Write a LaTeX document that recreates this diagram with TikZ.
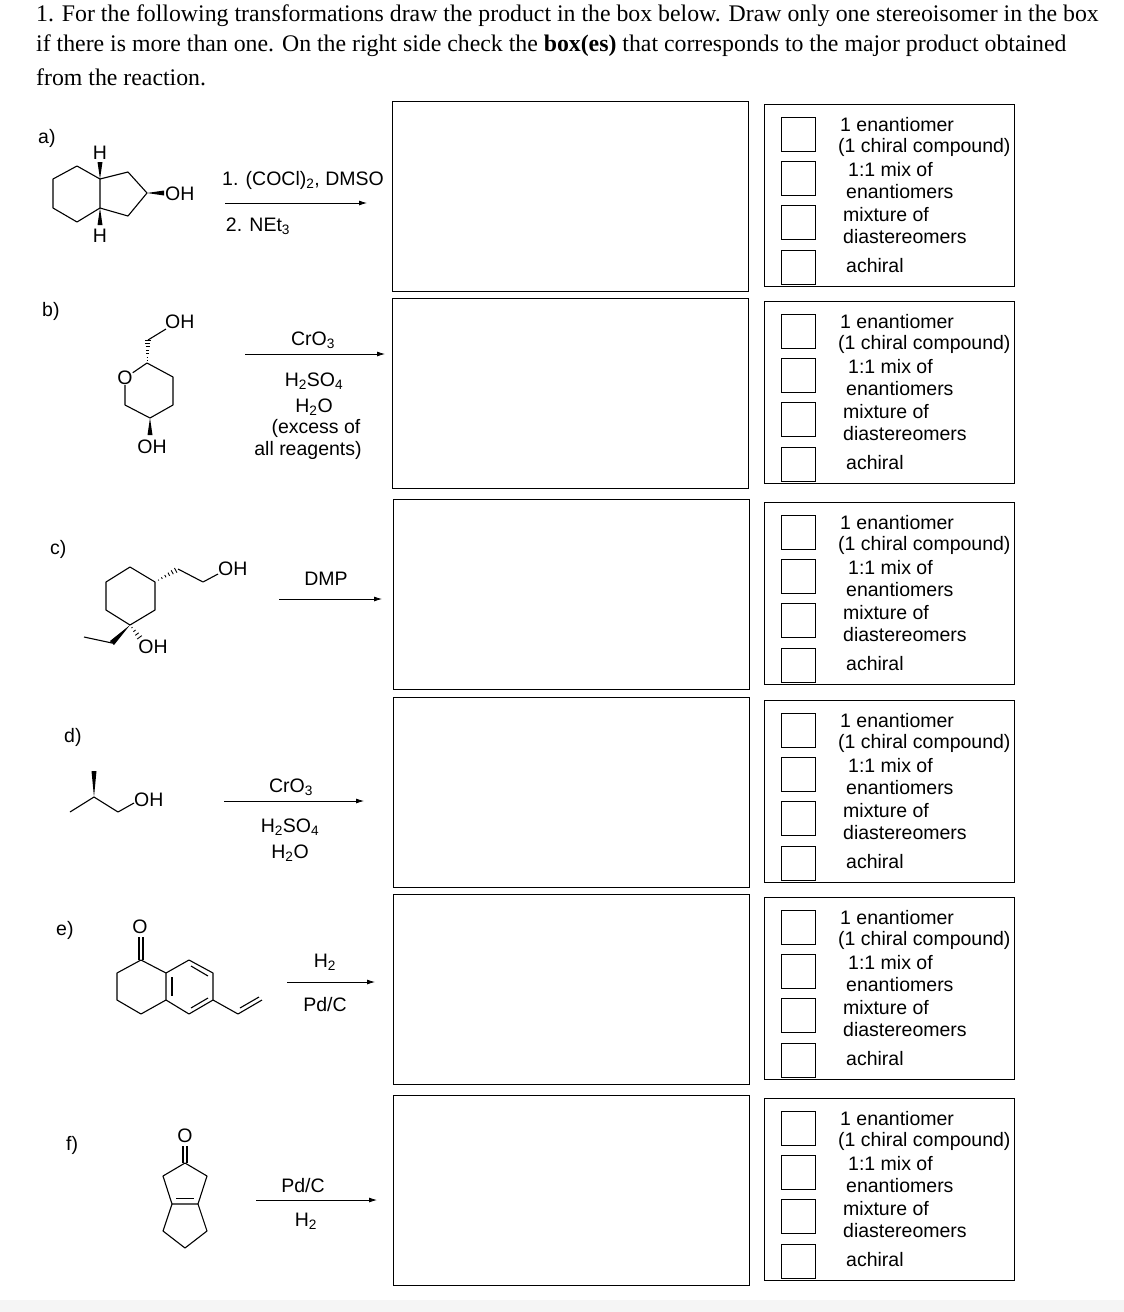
\documentclass[tikz,border=0pt]{standalone}
\usepackage{fontspec}
\setmainfont{Liberation Serif}
\newfontfamily\arial{Liberation Sans}
\usetikzlibrary{arrows.meta,calc}
\begin{document}
\begin{tikzpicture}[x=1pt,y=-1pt,
  bond/.style={line width=1.1pt,line join=round},
  lab/.style={font=\arial\fontsize{19.5}{19.5}\selectfont,inner sep=0pt,anchor=west},
  rg/.style={font=\arial\fontsize{19.5}{19.5}\selectfont,inner sep=0pt},
  atom/.style={font=\arial\fontsize{19.5}{19.5}\selectfont,inner sep=0pt},
  arr/.style={line width=0.8pt,-{Latex[length=8pt,width=5pt]}},
  pbox/.style={draw,line width=0.8pt,minimum width=356pt,minimum height=190pt,anchor=north west,inner sep=0pt},
  obox/.style={draw,line width=0.8pt,minimum width=250pt,minimum height=182pt,anchor=north west,inner sep=0pt},
  chk/.style={draw,line width=0.8pt,minimum size=34pt,anchor=north west,inner sep=0pt},
  wedge/.style={fill=black},
  hdr/.style={font=\fontsize{23.8}{23.8}\selectfont,inner sep=0pt,anchor=west}]
\useasboundingbox (0,0) rectangle (1124,1312);
\fill[white] (0,0) rectangle (1124,1312);
\fill[black!4] (0,1300) rectangle (1124,1312);
\node[hdr] (h1) at (36,16) {1. For the following transformations draw the product in the box below. Draw only one stereoisomer in the box};
\node[hdr] (h2) at (36,46) {if there is more than one. On the right side check the \textbf{box(es)} that corresponds to the major product obtained};
\node[hdr] (h3) at (36,77) {from the reaction.};
% panels
\foreach \n/\pt/\ot/\px in {a/101/104/392,b/298/301/392,c/499/502/393,d/697/700/393,e/894/897/393,f/1095/1098/393}{
  \node[pbox] (p\n) at (\px,\pt) {};
  \node[obox] (o\n) at (764,\ot) {};
  \foreach \k/\dy in {1/13,2/57,3/101,4/146}{
    \node[chk] (c\n\k) at (781,\ot+\dy) {};
  }
  \node[lab] (t\n1) at (840,\ot+21) {1 enantiomer};
  \node[lab] (t\n2) at (838,\ot+43) {(1 chiral compound)};
  \node[lab] (t\n3) at (848,\ot+66) {1:1 mix of};
  \node[lab] (t\n4) at (846,\ot+88) {enantiomers};
  \node[lab] (t\n5) at (843,\ot+111) {mixture of};
  \node[lab] (t\n6) at (843,\ot+133) {diastereomers};
  \node[lab] (t\n7) at (846,\ot+162) {achiral};
}
\node[lab] (la) at (38,138) {a)};
\node[lab] (lb) at (42,311) {b)};
\node[lab] (lc) at (50,549) {c)};
\node[lab] (ld) at (64,737) {d)};
\node[lab] (le) at (56,930) {e)};
\node[lab] (lf) at (66,1145) {f)};
% reagents
\coordinate (a1) at (225,203); \coordinate (a2) at (367,203);
\draw[arr] (a1) -- (a2);
\node[rg] (ra1) at (303,180) {1. (COCl)\textsubscript{2}, DMSO};
\node[rg] (ra2) at (258,226) {2. NEt\textsubscript{3}};
\coordinate (b1) at (245,354); \coordinate (b2) at (385,354);
\draw[arr] (b1) -- (b2);
\node[rg] (rb1) at (313,340) {CrO\textsubscript{3}};
\node[rg] (rb2) at (314,381) {H\textsubscript{2}SO\textsubscript{4}};
\node[rg] (rb3) at (314,407) {H\textsubscript{2}O};
\node[rg] (rb4) at (316,428) {(excess of};
\node[rg] (rb5) at (308,450) {all reagents)};
\coordinate (c1) at (279,599); \coordinate (c2) at (382,599);
\draw[arr] (c1) -- (c2);
\node[rg] (rc1) at (326,579) {DMP};
\coordinate (d1) at (224,801); \coordinate (d2) at (364,801);
\draw[arr] (d1) -- (d2);
\node[rg] (rd1) at (291,787) {CrO\textsubscript{3}};
\node[rg] (rd2) at (290,827) {H\textsubscript{2}SO\textsubscript{4}};
\node[rg] (rd3) at (290,853) {H\textsubscript{2}O};
\coordinate (e1) at (287,982); \coordinate (e2) at (375,982);
\draw[arr] (e1) -- (e2);
\node[rg] (re1) at (325,962) {H\textsubscript{2}};
\node[rg] (re2) at (325,1005) {Pd/C};
\coordinate (f1) at (256,1200); \coordinate (f2) at (377,1200);
\draw[arr] (f1) -- (f2);
\node[rg] (rf1) at (303,1186) {Pd/C};
\node[rg] (rf2) at (306,1221) {H\textsubscript{2}};
% molecule a
\draw[bond] (100,179) -- (77,166) -- (53,179) -- (53,208) -- (77,222) -- (100,208) -- cycle;
\draw[bond] (100,179) -- (128,172) -- (147,193) -- (128,216) -- (100,208);
\fill[wedge] (100,179) -- (97.5,162) -- (102.5,162) -- cycle;
\fill[wedge] (100,208) -- (97.5,225) -- (102.5,225) -- cycle;
\fill[wedge] (147,193) -- (164,190.5) -- (164,195.5) -- cycle;
\node[atom] (aH1) at (100,153) {H};
\node[atom] (aH2) at (100,236) {H};
\node[atom,anchor=west] (aOH) at (165,194) {OH};
% molecule b
\node[atom] (bO) at (125,378) {O};
\draw[bond] (bO) -- (147,363) -- (173,377) -- (173,405) -- (150,418) -- (125,405) -- (bO);
\foreach \t in {0.1,0.25,0.4,0.55,0.7,0.85,1.0}{
  \draw[line width=0.9pt] ($(147,363)!\t!(148,340)+(-2.8*\t,0)$) -- ($(147,363)!\t!(148,340)+(2.8*\t,0)$);}
\draw[bond] (148,340) -- (166,329);
\node[atom,anchor=west] (bOH1) at (165,322) {OH};
\fill[wedge] (150,418) -- (147.5,435) -- (152.5,435) -- cycle;
\node[atom] (bOH2) at (152,447) {OH};
% molecule c
\draw[bond] (130,567) -- (155,582) -- (155,610) -- (130,625) -- (106,610) -- (106,582) -- cycle;
\foreach \t in {0.15,0.3,0.45,0.6,0.75,0.9}{
  \draw[line width=0.9pt] ($(155,582)!\t!(178,569)+(1.4*\t,2.6*\t)$) -- ($(155,582)!\t!(178,569)-(1.4*\t,2.6*\t)$);}
\draw[bond] (178,569) -- (203,582) -- (218,574);
\node[atom,anchor=west] (cOH1) at (218,569) {OH};
\fill[wedge] (130,625) -- (110,641) -- (114,645) -- cycle;
\draw[bond] (112,643) -- (84,637);
\foreach \t in {0.2,0.45,0.7,0.95}{
  \draw[line width=0.9pt] ($(130,625)!\t!(140,638)+(2.4*\t,-1.8*\t)$) -- ($(130,625)!\t!(140,638)-(2.4*\t,-1.8*\t)$);}
\node[atom] (cOH2) at (153,647) {OH};
% molecule d
\fill[wedge] (94,797) -- (91.5,771) -- (96.5,771) -- cycle;
\draw[bond] (70,812) -- (94,797) -- (118,812) -- (134,803);
\node[atom,anchor=west] (dOH) at (134,800) {OH};
% molecule e
\node[atom] (eO) at (140,927) {O};
\draw[bond] (139,937) -- (139,960); \draw[bond] (143,937) -- (143,960);
\draw[bond] (141,960) -- (117,973) -- (117,1000) -- (141,1014) -- (166,1000) -- (166,973) -- cycle;
\draw[bond] (166,973) -- (189,960) -- (213,973) -- (213,1000) -- (189,1014) -- (166,1000);
\draw[bond] (172,977) -- (172,996);
\draw[bond] (191,966) -- (208,976);
\draw[bond] (191,1008) -- (208,998);
\draw[bond] (213,1000) -- (238,1014) -- (262,1000);
\draw[bond] (240,1008) -- (259,997);
% molecule f
\node[atom] (fO) at (185,1136) {O};
\draw[bond] (183,1146) -- (183,1163); \draw[bond] (187,1146) -- (187,1163);
\draw[bond] (185,1163) -- (163,1176) -- (172,1204) -- (198,1204) -- (207,1176) -- cycle;
\draw[bond] (172,1204) -- (163,1231) -- (185,1248) -- (207,1231) -- (198,1204);
\draw[bond] (176,1198.5) -- (194,1198.5);
\end{tikzpicture}
\end{document}
